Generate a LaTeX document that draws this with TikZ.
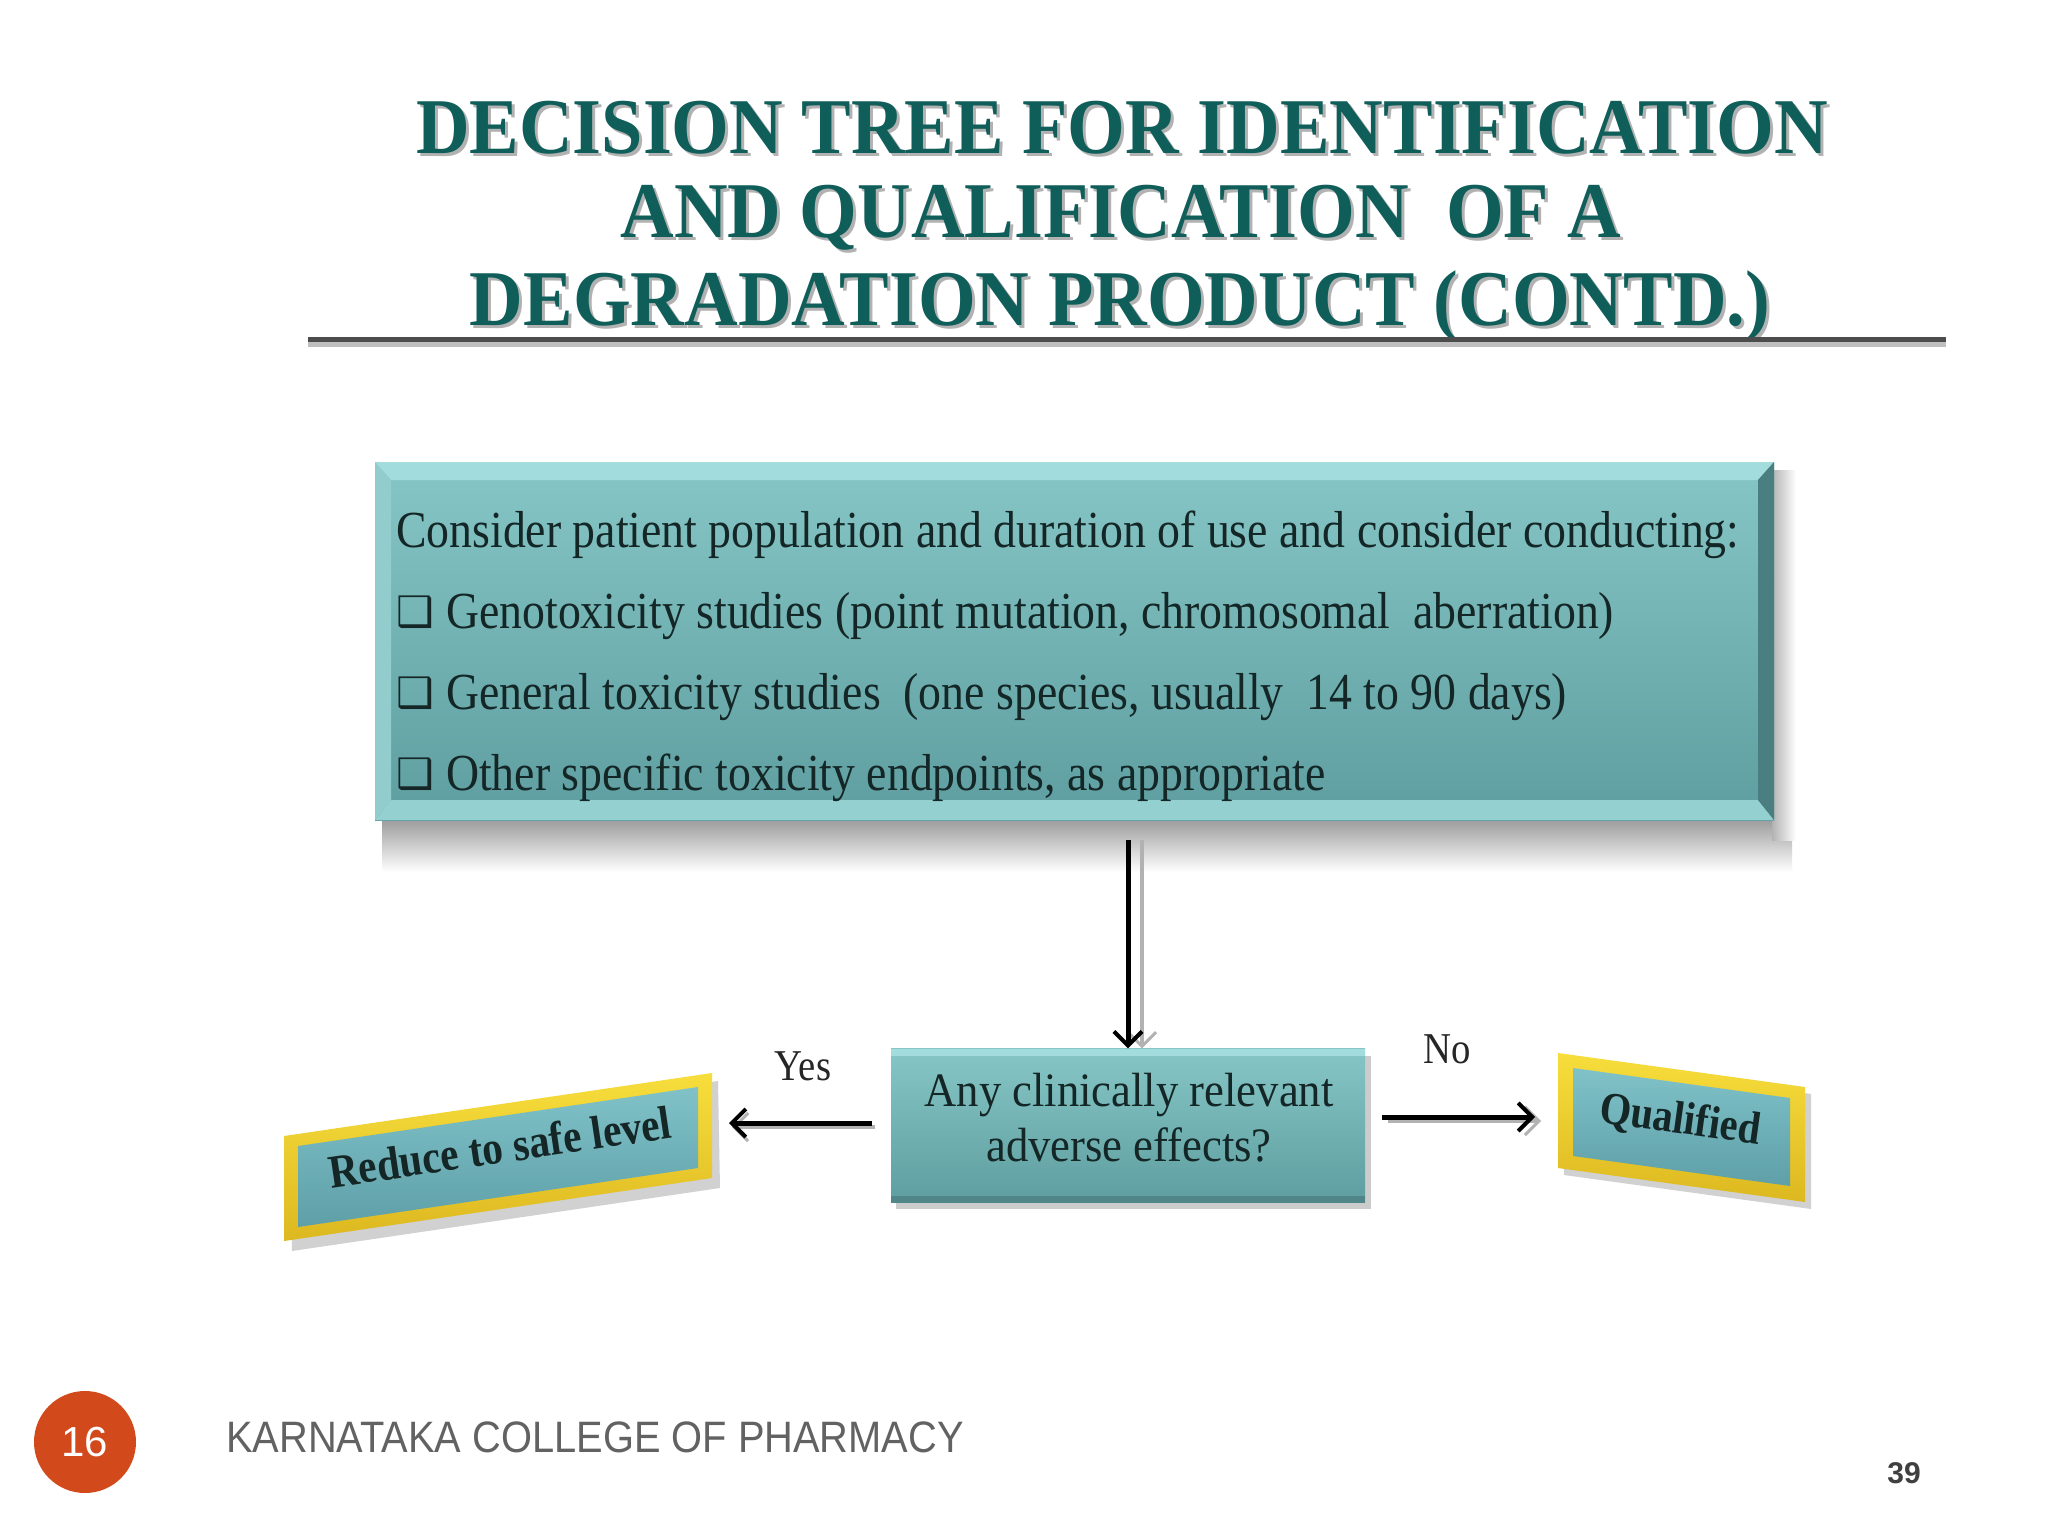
\documentclass[tikz,border=0pt]{standalone}
\usepackage{fontspec}
\setmainfont{Liberation Serif}
\newfontfamily\titlefont[FakeStretch=0.94]{Liberation Serif}
\newfontfamily\bodyfont[FakeStretch=0.88]{Liberation Serif}
\newfontfamily\midfont[FakeStretch=0.93]{Liberation Serif}
\newfontfamily\footfont[FakeStretch=0.905]{Liberation Sans}
\newfontfamily\plainsans{Liberation Sans}
\newfontfamily\symbfont{DejaVu Sans}
\usetikzlibrary{arrows.meta}
\definecolor{titleteal}{HTML}{0F5E5A}
\definecolor{boxtop}{HTML}{86C6C6}
\definecolor{boxbot}{HTML}{5E9EA0}
\definecolor{bevel}{HTML}{A2DCDC}
\definecolor{goldA}{HTML}{F7DE3C}
\definecolor{goldB}{HTML}{DDB820}
\definecolor{innerA}{HTML}{80C2C8}
\definecolor{innerB}{HTML}{5E9FA8}
\definecolor{footred}{HTML}{D24A1C}
\definecolor{footgray}{HTML}{626262}
\definecolor{textdark}{HTML}{142626}
\tikzset{
  titletxt/.style={font=\titlefont\bfseries\fontsize{79}{79}\selectfont, text=titleteal, inner sep=0pt},
  titleshadow/.style={font=\titlefont\bfseries\fontsize{79}{79}\selectfont, text=black!30, inner sep=0pt},
  bodytxt/.style={font=\bodyfont\fontsize{52}{52}\selectfont, text=textdark, anchor=base west, inner sep=0pt},
  chk/.style={font=\symbfont\fontsize{42}{42}\selectfont, text=textdark, anchor=base west, inner sep=0pt},
  lbl/.style={font=\bodyfont\fontsize{44}{44}\selectfont, text=black!85, inner sep=0pt},
  arr/.style={line width=5pt, black, -{Straight Barb[length=14pt,width=28pt,line width=4pt]}},
  arrsh/.style={line width=4pt, black!30, -{Straight Barb[length=14pt,width=28pt,line width=3pt]}},
  tealbox/.style={inner sep=0pt, top color=boxtop, bottom color=boxbot},
}
\begin{document}
\begin{tikzpicture}[x=1pt,y=-1pt]
\useasboundingbox (0,0) rectangle (2048,1536);
\fill[white] (0,0) rectangle (2048,1536);

% title
\node[titleshadow] at (1125,131) {DECISION TREE FOR IDENTIFICATION};
\node[titleshadow] at (1124,221) {AND QUALIFICATION \ OF A};
\node[titleshadow] at (1123,310) {DEGRADATION PRODUCT (CONTD.)};
\node[titletxt] (title1) at (1122,128) {DECISION TREE FOR IDENTIFICATION};
\node[titletxt] (title2) at (1121,218) {AND QUALIFICATION \ OF A};
\node[titletxt] (title3) at (1120,307) {DEGRADATION PRODUCT (CONTD.)};
\fill[black!25] (308,342) rectangle (1946,347);
\fill[black!70] (308,337) rectangle (1946,342);

% big box shadow
\shade[top color=black!40, bottom color=white] (382,818) rectangle (1792,872);
\shade[left color=black!30, right color=white] (1772,470) rectangle (1796,840);
% big box
\node[tealbox, minimum width=1399pt, minimum height=358pt] (big) at (1074.5,641) {};
\fill[bevel] (375,462) -- (1774,462) -- (1758,480) -- (391,480) -- cycle;
\fill[bevel!80!boxbot] (375,820) -- (1774,820) -- (1758,800) -- (391,800) -- cycle;
\fill[boxtop!90!white] (375,462) -- (391,480) -- (391,800) -- (375,820) -- cycle;
\fill[boxbot!80!black] (1774,462) -- (1758,480) -- (1758,800) -- (1774,820) -- cycle;

\node[bodytxt] (t1) at (396,547) {Consider patient population and duration of use and consider conducting:};
\node[chk] (c2) at (396,626) {❑};
\node[bodytxt] (t2) at (446,628) {Genotoxicity studies (point mutation, chromosomal\ \ aberration)};
\node[chk] (c3) at (396,707) {❑};
\node[bodytxt] (t3) at (446,709) {General toxicity studies\ \ (one species, usually\ \ 14 to 90 days)};
\node[chk] (c4) at (396,788) {❑};
\node[bodytxt] (t4) at (446,790) {Other specific toxicity endpoints, as appropriate};

% middle box
\fill[black!20] (896,1056) rectangle (1371,1209);
\node[tealbox, minimum width=474pt, minimum height=154pt] (mid) at (1128,1125.5) {};
\fill[bevel] (891,1048.5) rectangle (1365,1056);
\fill[boxbot!85!black] (891,1196) rectangle (1365,1202.5);
\node[font=\midfont\fontsize{48}{55}\selectfont, text=textdark, align=center, inner sep=0pt] (midtxt) at (1129,1118) {Any clinically relevant\\adverse effects?};

% reduce box (sheared)
\fill[black!18] (290,1144) -- (718,1081) -- (720,1188) -- (292,1251) -- cycle;
\shade[top color=goldA, bottom color=goldB] (284,1136) -- (712,1073) -- (712,1178) -- (284,1241) -- cycle;
\shade[top color=innerA, bottom color=innerB] (298,1146) -- (698,1087) -- (698,1168) -- (298,1227) -- cycle;
\node[font=\bodyfont\bfseries\fontsize{47}{47}\selectfont, text=textdark, rotate=8.4, inner sep=0pt] (reduce) at (500,1147) {Reduce to safe level};
\coordinate (reduceE) at (712,1123);

% qualified box (sheared)
\fill[black!18] (1564,1060) -- (1811,1094) -- (1811,1209) -- (1564,1175) -- cycle;
\shade[top color=goldA, bottom color=goldB] (1558,1053) -- (1805,1087) -- (1805,1202) -- (1558,1168) -- cycle;
\shade[top color=innerA, bottom color=innerB] (1573,1068) -- (1790,1098) -- (1790,1186) -- (1573,1156) -- cycle;
\node[font=\bodyfont\bfseries\fontsize{46}{46}\selectfont, text=textdark, rotate=-7.9, inner sep=0pt] (qual) at (1680,1121) {Qualified};
\coordinate (qualW) at (1558,1117);

% arrows
\draw[arrsh, transform canvas={xshift=14pt}, shorten <=20pt] (big.south -| mid.north) -- (mid.north);
\draw[arr, shorten <=20pt] (big.south -| mid.north) -- (mid.north);
\draw[arrsh, transform canvas={xshift=3pt,yshift=-4pt}, shorten <=19pt, shorten >=17pt] (mid.west |- reduceE) -- (reduceE);
\draw[arr, shorten <=19pt, shorten >=17pt] (mid.west |- reduceE) -- (reduceE);
\draw[arrsh, transform canvas={xshift=6pt,yshift=-4pt}, shorten <=17pt, shorten >=23pt] (mid.east |- qualW) -- (qualW);
\draw[arr, shorten <=17pt, shorten >=23pt] (mid.east |- qualW) -- (qualW);

\node[lbl] (yes) at (803,1066) {Yes};
\node[lbl] (no) at (1447,1049) {No};

% footer
\node[circle, fill=footred, minimum size=102pt, inner sep=0pt, text=white, font=\plainsans\fontsize{42}{42}\selectfont] (pg) at (85,1442) {16};
\node[anchor=base west, inner sep=0pt, text=footgray, font=\footfont\fontsize{44}{44}\selectfont] (college) at (226,1452) {KARNATAKA COLLEGE OF PHARMACY};
\node[inner sep=0pt, text=black!75, font=\plainsans\bfseries\fontsize{30}{30}\selectfont] (num) at (1904,1473) {39};
\end{tikzpicture}
\end{document}
